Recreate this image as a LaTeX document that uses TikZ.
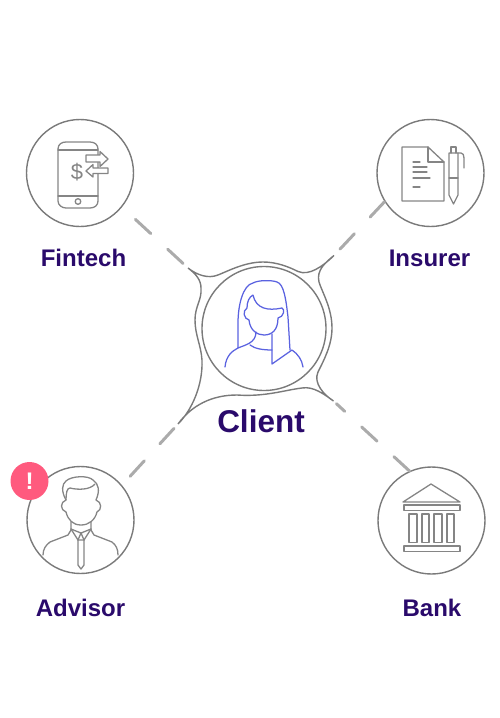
\documentclass[tikz,border=0pt]{standalone}
\usepackage{fontspec}
\setmainfont{Liberation Sans}
\definecolor{ink}{HTML}{2A0A6B}
\definecolor{ring}{HTML}{7A7A7A}
\definecolor{icong}{HTML}{858585}
\definecolor{dashc}{HTML}{ABABAB}
\definecolor{blue1}{HTML}{5A62E0}
\definecolor{alert}{HTML}{FF5A7E}
\tikzset{
 ringc/.style={circle,draw=ring,line width=1.4pt,minimum size=107pt,inner sep=0pt},
 lab/.style={text=ink,font=\fontsize{24}{24}\selectfont\bfseries,inner sep=0pt},
 ic/.style={draw=icong,line width=1.3pt,line join=round,line cap=round},
 pers/.style={draw=blue1,line width=1.25pt,line join=round,line cap=round},
 conn/.style={draw=dashc,line width=3pt,line cap=round,dash pattern=on 21pt off 23pt},
 blob/.style={ring,line width=1.4pt,line join=miter},
}
\begin{document}
\begin{tikzpicture}[x=1pt,y=-1pt]
\useasboundingbox (0,0) rectangle (500,718);
% nodes
\node[ringc] (fintech) at (80,173) {};
\node[ringc] (insurer) at (430.5,173) {};
\node[ringc] (advisor) at (80.5,520) {};
\node[ringc] (bank) at (431.5,520.5) {};
\node[circle,draw=ring,line width=1.4pt,minimum size=124pt,inner sep=0pt] (client) at (264,328.5) {};
\node[lab] (tf) at (83.5,258) {Fintech};
\node[lab] (ti) at (429.5,258) {Insurer};
\node[lab] (ta) at (80.5,608) {Advisor};
\node[lab] (tb) at (432,608) {Bank};
\node[lab,font=\fontsize{31.5}{32}\selectfont\bfseries] (tc) at (261,421) {Client};
\coordinate (sfl) at (188,268);
\coordinate (sfr) at (334,255.5);
\coordinate (sbr) at (333.5,401);
\coordinate (sbl) at (178,424);
% blob
\draw[blob] (sfl)
 .. controls (197,275) and (208,279) .. (218,275)
 .. controls (228,271) and (245,262) .. (263,262)
 .. controls (277,262) and (289,267) .. (298,271.5)
 .. controls (309,276) and (322,267) .. (sfr)
 .. controls (326,262) and (316,270) .. (319,282)
 .. controls (322,292) and (332,308) .. (332,328)
 .. controls (332,345) and (324,360) .. (318,372)
 .. controls (313,383) and (324,395) .. (sbr)
 .. controls (324,394) and (313,386) .. (302,388)
 .. controls (285,390) and (265,397) .. (237,395)
 .. controls (212,395) and (192,405) .. (sbl)
 .. controls (192,410) and (203,385) .. (202,360)
 .. controls (201,345) and (195,335) .. (195,320)
 .. controls (195,306) and (202,300) .. (201,288)
 .. controls (201,280) and (196,274) .. (sfl) -- cycle;
% connectors
\path[conn,shorten <=18pt] (fintech.-39) -- (sfl);
\path[conn] (insurer.212) -- (sfr);
\path[conn,shorten <=12pt] (advisor.40) -- (sbl);
\path[conn,shorten >=4pt] (bank.114) -- (sbr);
% person
\draw[pers] (238,348) -- (238,323) .. controls (238,305) and (243,285) .. (253,283)
 .. controls (258,280) and (272,280) .. (277,282) .. controls (284,284) and (286,300) .. (288,317) -- (290,350);
\draw[pers] (253,295) .. controls (249,297) and (247,302) .. (247,308) .. controls (242,311) and (244,319) .. (249,320)
 .. controls (250,331) and (258,335) .. (264,335) .. controls (272,335) and (278,330) .. (278,318) .. controls (284,317) and (285,309) .. (282,308)
 .. controls (268,311) and (256,309) .. (253,295);
\draw[pers] (225,367) .. controls (226,356) and (232,351) .. (238,348) .. controls (245,345) and (256,343) .. (256,332);
\draw[pers] (250,345) .. controls (255,349) and (264,350) .. (272,350);
\draw[pers] (272,334) -- (272,364) -- (292,350) .. controls (298,354) and (302,360) .. (303,367);
% phone
\draw[ic] (58,149) .. controls (58,144) and (62,142) .. (66,142) -- (90,142) .. controls (95,142) and (98,145) .. (98,149)
 -- (98,201) .. controls (98,205) and (95,208) .. (90,208) -- (66,208) .. controls (62,208) and (58,205) .. (58,201) -- cycle;
\draw[ic] (58,150) -- (98,150) (58,196) -- (98,196);
\draw[ic] (78,201.5) circle (2.8);
\node[text=icong,font=\fontsize{22}{22}\selectfont,inner sep=0pt] (dollar) at (77,172.5) {\$};
\draw[ic,fill=white] (86,155) -- (100,155) -- (100,151.5) -- (108,159) -- (100,166.5) -- (100,162) -- (86,162) -- cycle;
\draw[ic,fill=white] (108,168) -- (93,168) -- (93,164.5) -- (86,171) -- (93,177) -- (93,173.5) -- (108,173.5) -- cycle;
% document and pen
\draw[ic] (402,147) -- (428,147) -- (444,162) -- (444,201) -- (402,201) -- cycle;
\draw[ic] (428,147) -- (428,162) -- (444,162);
\draw[ic] (413,162) -- (420,162) (413,167) -- (427,167) (413,172) -- (427,172) (413,178) -- (430,178) (413,187) -- (420,187);
\draw[ic] (449,153) -- (458,153) -- (458,195) -- (453.5,204) -- (449,195) -- cycle;
\draw[ic] (449,178) -- (458,178);
\draw[ic] (451,153) -- (451,147) -- (456,147) -- (456,153);
\draw[ic] (458,153) -- (461,153) .. controls (463,153) and (464,155) .. (464,158) -- (464,168);
% advisor
\draw[ic] (66,500) .. controls (61,491) and (62,484) .. (66,481) .. controls (71,476) and (88,475) .. (93,480) .. controls (99,484) and (100,491) .. (96,500)
 .. controls (102,502) and (102,510) .. (97,512) .. controls (95,520) and (89,525) .. (81,525) .. controls (73,525) and (68,520) .. (66,512) .. controls (60,510) and (60,502) .. (66,500);
\draw[ic] (66,500) .. controls (66,493) and (67,488) .. (70,488) .. controls (78,490) and (90,490) .. (95,484);
\draw[ic] (71,522) -- (71,530) -- (68,535) -- (50,542) .. controls (46,545) and (43,549) .. (43,555);
\draw[ic] (91,522) -- (91,530) -- (94,535) -- (112,542) .. controls (116,545) and (118,549) .. (118,555);
\draw[ic] (71,529) -- (78,540) -- (84,540) -- (91,529);
\draw[ic] (71,529) -- (81,533) -- (91,529) (78,540) -- (81,533) -- (84,540);
\draw[ic] (78,540) -- (78,565) -- (81,569) -- (84,565) -- (84,540);
\node[circle,fill=alert,minimum size=38pt,inner sep=0pt] (badge) at (29.5,481) {};
\node[text=white,font=\fontsize{24}{24}\selectfont\bfseries,inner sep=0pt] (bang) at (29.5,481) {!};
% bank
\draw[ic] (403,502) -- (431,484) -- (460,502) -- cycle;
\draw[ic] (404,505) rectangle (460,510.5);
\draw[ic] (409,514) rectangle (417,542.5) (422,514) rectangle (429,542.5) (434,514) rectangle (442,542.5) (447,514) rectangle (454,542.5);
\draw[ic] (404,546) rectangle (460,551.5);
\end{tikzpicture}
\end{document}
